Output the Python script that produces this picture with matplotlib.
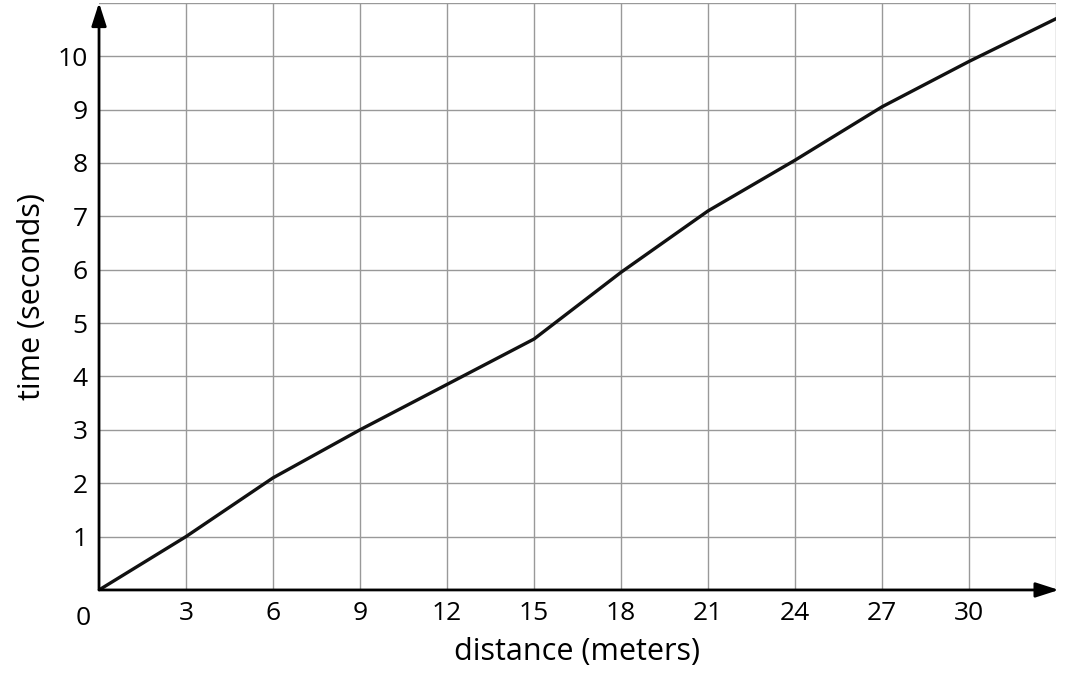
import matplotlib.pyplot as plt

plt.rcParams['font.family'] = ['Open Sans', 'DejaVu Sans']

distance = [0, 3, 6, 9, 12, 15, 18, 21, 24, 27, 30, 33]
time = [0, 1.0, 2.1, 3.0, 3.85, 4.7, 5.95, 7.1, 8.05, 9.05, 9.9, 10.7]
x_ticks = [3, 6, 9, 12, 15, 18, 21, 24, 27, 30]
y_ticks = [1, 2, 3, 4, 5, 6, 7, 8, 9, 10]

fig = plt.figure(figsize=(10.74, 6.86), dpi=100)
ax = fig.add_axes([0.0922, 0.140, 0.891, 0.856])
ax.set_xlim(0, 33)
ax.set_ylim(0, 11)

for gx in range(3, 34, 3):
    ax.axvline(gx, color='#999999', lw=1, zorder=1)
for gy in range(1, 12):
    ax.axhline(gy, color='#999999', lw=1, zorder=1)

ax.plot(distance, time, color='#111111', lw=2.4, zorder=3)

for s in ax.spines.values():
    s.set_visible(False)
arrow = dict(arrowstyle='-|>,head_length=1.4,head_width=0.45', color='black', lw=2, shrinkA=0, shrinkB=0)
ax.annotate('', xy=(33.1, 0), xytext=(0, 0), annotation_clip=False, arrowprops=arrow)
ax.annotate('', xy=(0, 11.0), xytext=(0, 0), annotation_clip=False, arrowprops=arrow)

ax.set_xticks(x_ticks)
ax.set_yticks(y_ticks)
ax.set_xticklabels([str(v) for v in x_ticks])
ax.set_yticklabels([str(v) for v in y_ticks])
ax.tick_params(length=0, labelsize=19, pad=8)
ax.text(-0.3, -0.3, '0', ha='right', va='top', fontsize=19)

ax.set_xlabel('distance (meters)', fontsize=22, labelpad=8)
ax.set_ylabel('time (seconds)', fontsize=22, labelpad=8)

fig.savefig('out.png', dpi=100)
